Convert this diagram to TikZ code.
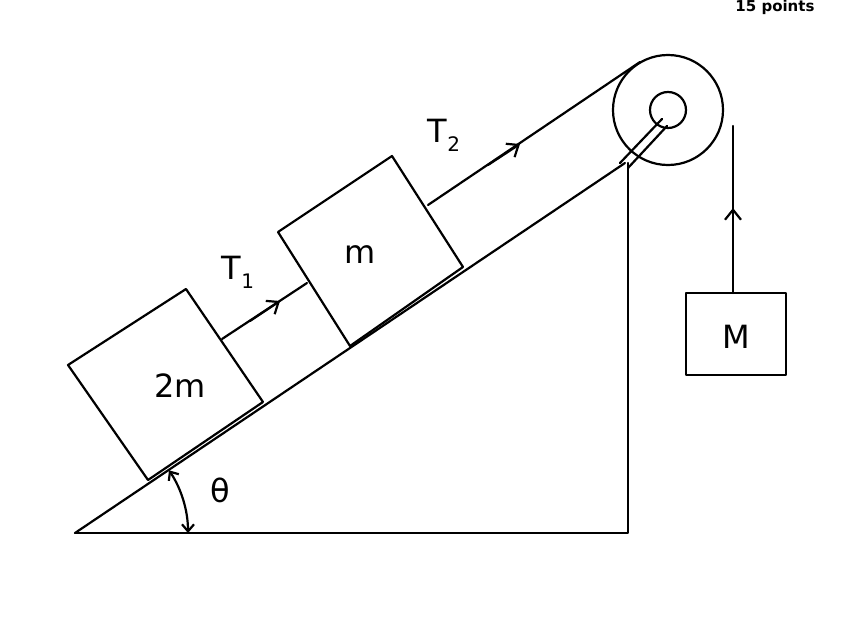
\documentclass[tikz,border=0pt]{standalone}
\usepackage{fontspec}
\setmainfont{DejaVu Sans}
\usetikzlibrary{arrows.meta}
\begin{document}
\begin{tikzpicture}[x=1pt,y=-1pt,
  ln/.style={line width=2.2pt,black,line cap=round,line join=round},
  lbl/.style={font=\fontsize{32}{32}\selectfont},
  tip/.style={-{Straight Barb[length=10pt,width=16pt]}}]
\useasboundingbox (0,0) rectangle (868,626);
% incline
\coordinate (A) at (75,533);
\coordinate (B) at (628,533);
\coordinate (C) at (625,163);
\draw[ln] (A) -- (B) -- (628,163);
\draw[ln] (A) -- (C);
% pulley
\coordinate (P) at (668,110);
\draw[ln] (P) circle (55);
\draw[ln] (P) circle (18);
\draw[ln] (662,119) -- (620,163);
\draw[ln] (667,126) -- (628,168);
% blocks
\draw[ln] (68,365) -- (186,289) -- (263,402) -- (148,480) -- cycle;
\draw[ln] (278,232) -- (392,156) -- (463,267) -- (350,346) -- cycle;
\node[lbl] (m2) at (180,386) {2m};
\node[lbl] (m1) at (360,255) {m};
% ropes
\coordinate (r1a) at (222,339); \coordinate (r1b) at (307,283);
\draw[ln] (r1a) -- (r1b);
\draw[ln,tip] (250,321) -- (280,301);
\coordinate (r2a) at (428,205); \coordinate (r2b) at (640,62);
\draw[ln] (r2a) -- (r2b);
\draw[ln,tip] (488,165) -- (520,144);
\node[lbl] (t1) at (238,272) {T\raisebox{-9pt}{\fontsize{20}{20}\selectfont 1}};
\node[lbl] (t2) at (444,135) {T\raisebox{-9pt}{\fontsize{20}{20}\selectfont 2}};
% hanging mass
\draw[ln] (733,126) -- (733,293);
\draw[ln,tip] (733,240) -- (733,208);
\draw[ln] (686,293) rectangle (786,375);
\node[lbl] (M) at (736,337) {M};
% angle
\draw[ln,{Straight Barb[length=7pt,width=12pt]}-{Straight Barb[length=7pt,width=12pt]}] (188,533) arc[start angle=0,end angle=-33.7,radius=113];
\node[lbl] (th) at (220,490) {θ};
\node[font=\bfseries\fontsize{15}{15}\selectfont,anchor=north east] (pts) at (818,-3) {15 points};
\end{tikzpicture}
\end{document}
